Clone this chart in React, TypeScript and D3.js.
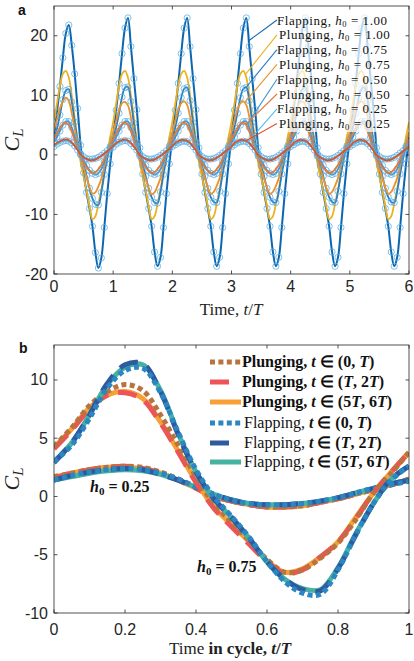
import React from 'react';
import * as d3 from 'd3';

// sample phases within one cycle (t/T)
const phase = [0, 0.05, 0.1, 0.15, 0.2, 0.25, 0.3, 0.35, 0.4, 0.45, 0.5, 0.55, 0.6, 0.65, 0.7, 0.75, 0.8, 0.85, 0.9, 0.95, 1];

// ---- one-cycle CL readings ----
const flap100First = [3.0, 7.2, 11.5, 16.3, 20.4, 21.8, 18.4, 13.6, 7.8, 1.6, -3.0, -6.3, -9.0, -12.0, -16.4, -19.0, -17.3, -12.2, -6.5, -1.5, 3.0];
const flap100 = [3.0, 7.5, 12.0, 17.0, 21.3, 23.0, 18.2, 12.8, 7.6, 1.2, -3.2, -6.3, -9.0, -12.0, -16.3, -18.7, -17.2, -12.2, -6.5, -1.5, 3.0];
const plunge100 = [5.8, 8.6, 11.6, 13.6, 14.1, 13.0, 10.0, 6.2, 2.4, -1.2, -3.7, -6.0, -8.6, -10.8, -10.3, -8.2, -5.8, -2.8, 0.4, 3.0, 5.5];
const flap050 = [2.2, 3.0, 4.0, 5.0, 5.6, 5.6, 4.6, 3.0, 1.4, 0.1, -0.9, -1.8, -2.6, -3.1, -3.3, -3.1, -2.4, -1.2, 0.1, 1.2, 2.1];
const plunge050 = [2.8, 3.6, 4.5, 5.2, 5.4, 5.0, 3.9, 2.5, 1.0, -0.4, -1.3, -2.1, -2.7, -3.0, -2.9, -2.4, -1.7, -0.7, 0.4, 1.5, 2.6];

// h0 = 0.75, cycles (0,T), (T,2T), (5T,6T)
const plunge075A = [4.3, 5.9, 7.8, 9.0, 9.6, 9.1, 7.0, 4.4, 1.7, -0.6, -2.2, -3.8, -5.4, -6.5, -6.3, -5.3, -4.0, -2.0, 0.3, 2.0, 3.8];
const plunge075B = [4.1, 5.7, 7.5, 8.7, 8.9, 8.3, 6.3, 3.8, 1.2, -1.0, -2.6, -4.1, -5.6, -6.6, -6.3, -5.2, -3.9, -1.9, 0.3, 2.1, 3.8];
const plunge075C = [4.2, 5.8, 7.6, 8.7, 9.0, 8.4, 6.4, 3.9, 1.3, -0.9, -2.4, -3.9, -5.5, -6.5, -6.2, -5.2, -3.9, -1.8, 0.3, 2.1, 3.8];
const flap075A = [3.0, 4.4, 6.7, 9.3, 10.8, 11.0, 8.9, 5.5, 2.3, 0.0, -1.7, -3.5, -5.6, -7.3, -8.3, -8.4, -6.3, -3.3, -0.6, 1.4, 2.6];
const flap075B = [2.9, 4.6, 7.0, 9.7, 11.3, 11.4, 9.0, 5.3, 2.1, -0.2, -1.8, -3.6, -5.6, -7.1, -8.0, -8.1, -6.2, -3.3, -0.6, 1.5, 2.6];
const flap075C = [3.0, 4.6, 7.0, 9.6, 11.1, 11.3, 9.1, 5.4, 2.1, -0.2, -1.8, -3.6, -5.6, -7.1, -7.9, -8.0, -6.1, -3.2, -0.6, 1.5, 2.6];

// h0 = 0.25
const plunge025A = [1.7, 2.0, 2.3, 2.5, 2.6, 2.5, 2.1, 1.5, 0.8, 0.1, -0.4, -0.7, -0.9, -0.9, -0.8, -0.5, -0.2, 0.2, 0.6, 1.0, 1.5];
const plunge025B = [1.6, 2.0, 2.3, 2.5, 2.6, 2.4, 2.0, 1.4, 0.7, 0.0, -0.4, -0.7, -0.9, -0.9, -0.8, -0.5, -0.2, 0.2, 0.6, 1.0, 1.5];
const plunge025C = [1.6, 2.0, 2.3, 2.5, 2.5, 2.4, 2.0, 1.4, 0.7, 0.0, -0.4, -0.7, -0.9, -0.9, -0.8, -0.5, -0.2, 0.2, 0.6, 1.0, 1.4];
const flap025A = [1.4, 1.8, 2.1, 2.3, 2.4, 2.3, 2.0, 1.5, 0.8, 0.2, -0.3, -0.6, -0.7, -0.7, -0.6, -0.4, -0.1, 0.3, 0.7, 1.0, 1.3];
const flap025B = [1.4, 1.8, 2.1, 2.3, 2.4, 2.3, 1.9, 1.4, 0.8, 0.2, -0.3, -0.6, -0.7, -0.7, -0.6, -0.4, -0.1, 0.3, 0.7, 1.1, 1.4];
const flap025C = [1.4, 1.7, 2.0, 2.2, 2.3, 2.2, 1.9, 1.4, 0.8, 0.2, -0.3, -0.6, -0.7, -0.7, -0.6, -0.4, -0.1, 0.3, 0.7, 1.1, 1.4];

// ---- panel a series (legend order) ----
const topNames = ['Flapping', 'Plunging', 'Flapping', 'Plunging', 'Flapping', 'Plunging', 'Flapping', 'Plunging'];
const topH0 = ['1.00', '1.00', '0.75', '0.75', '0.50', '0.50', '0.25', '0.25'];
const topColors = ['#0d67b0', '#edb120', '#2a7cc2', '#e9922e', '#3f93cf', '#e0793a', '#4dbeee', '#d9532b'];
const topCycles = [
  [flap100First, flap100, flap100, flap100, flap100, flap100],
  [plunge100, plunge100, plunge100, plunge100, plunge100, plunge100],
  [flap075A, flap075B, flap075C, flap075C, flap075C, flap075C],
  [plunge075A, plunge075B, plunge075C, plunge075C, plunge075C, plunge075C],
  [flap050, flap050, flap050, flap050, flap050, flap050],
  [plunge050, plunge050, plunge050, plunge050, plunge050, plunge050],
  [flap025A, flap025B, flap025C, flap025C, flap025C, flap025C],
  [plunge025A, plunge025B, plunge025C, plunge025C, plunge025C, plunge025C],
];
// where each legend leader line meets its curve (t/T)
const topAnchors = [3.29, 3.23, 3.24, 3.22, 3.27, 3.24, 3.27, 3.25];

// ---- panel b series ----
const botLabels = ['(0, ', '(', '(5', '(0, ', '(', '(5'];
const botNames = ['Plunging', 'Plunging', 'Plunging', 'Flapping', 'Flapping', 'Flapping'];
const botColors = ['#b8743f', '#ee5358', '#f7a035', '#2a87c4', '#2e5aa0', '#48b2a0'];
const botDash = ['5 3.4', '19 10', null, '5 3.4', '19 10', null];
const bot075 = [plunge075A, plunge075B, plunge075C, flap075A, flap075B, flap075C];
const bot025 = [plunge025A, plunge025B, plunge025C, flap025A, flap025B, flap025C];
const drawOrder = [2, 1, 0, 5, 4, 3];

const tile = (cycles: number[][]) => {
  const pts: [number, number][] = [];
  cycles.forEach((c, k) => c.forEach((v, i) => {
    if (k > 0 && i === 0) return;
    pts.push([k + phase[i], v]);
  }));
  return pts;
};
const oneCycle = (c: number[]) => c.map((v, i) => [phase[i], v] as [number, number]);

const valueAt = (pts: [number, number][], t: number) => {
  const i = d3.bisector((d: [number, number]) => d[0]).right(pts, t) - 1;
  const a = pts[Math.max(0, i)], b = pts[Math.min(pts.length - 1, i + 1)];
  if (b[0] === a[0]) return a[1];
  return a[1] + (b[1] - a[1]) * (t - a[0]) / (b[0] - a[0]);
};

const axisColor = '#262626';
const sans = '"Liberation Sans", Arial, sans-serif';
const serif = '"Liberation Serif", "Times New Roman", serif';

const Frame = ({ x, y, xt, yt, labelDy }: any) => {
  const [l, r] = x.range();
  const [b, t] = y.range();
  const tl = 3.5;
  return (
    <g>
      <rect x={l} y={t} width={r - l} height={b - t} fill="none" stroke={axisColor} strokeWidth={0.8} />
      {xt.map((v: number) => (
        <g key={'x' + v}>
          <line x1={x(v)} x2={x(v)} y1={b} y2={b - tl} stroke={axisColor} strokeWidth={0.8} />
          <line x1={x(v)} x2={x(v)} y1={t} y2={t + tl} stroke={axisColor} strokeWidth={0.8} />
          <text x={x(v)} y={b + labelDy} textAnchor="middle" fontFamily={sans} fontSize={16} fill={axisColor}>{String(v)}</text>
        </g>
      ))}
      {yt.map((v: number) => (
        <g key={'y' + v}>
          <line x1={l} x2={l + tl} y1={y(v)} y2={y(v)} stroke={axisColor} strokeWidth={0.8} />
          <line x1={r} x2={r - tl} y1={y(v)} y2={y(v)} stroke={axisColor} strokeWidth={0.8} />
          <text x={l - 6} y={y(v) + 5.5} textAnchor="end" fontFamily={sans} fontSize={16} fill={axisColor}>{String(v)}</text>
        </g>
      ))}
    </g>
  );
};

const CL = ({ cx, cy }: { cx: number; cy: number }) => (
  <text transform={`translate(${cx},${cy}) rotate(-90)`} textAnchor="middle" fontFamily={serif} fontStyle="italic" fontSize={22} fill="#222">
    C<tspan fontSize={15} dy={4}>L</tspan>
  </text>
);

const App = () => {
  const W = 414, H = 661;

  // panel a
  const xa = d3.scaleLinear().domain([0, 6]).range([54, 409]);
  const ya = d3.scaleLinear().domain([-20, 25]).range([274, 6]);
  const lineA = d3.line<[number, number]>().x(d => xa(d[0])).y(d => ya(d[1])).curve(d3.curveCatmullRom.alpha(0.5));
  const topSeries = topCycles.map(tile);

  // panel b
  const xb = d3.scaleLinear().domain([0, 1]).range([54, 409]);
  const yb = d3.scaleLinear().domain([-10, 13]).range([613, 345]);
  const lineB = d3.line<[number, number]>().x(d => xb(d[0])).y(d => yb(d[1])).curve(d3.curveCatmullRom.alpha(0.5));

  const legX = 277, legY0 = 20, legDy = 14.8;
  const bLegX = 210, bLegY = [362, 382, 402, 423, 443, 462];

  return (
    <svg width={W} height={H} style={{ position: 'absolute', left: 0, top: 0, background: '#fff' }}>
      <defs>
        <clipPath id="clipA"><rect x={54} y={6} width={355} height={268} /></clipPath>
        <clipPath id="clipB"><rect x={54} y={345} width={355} height={268} /></clipPath>
      </defs>

      {/* ---------- panel a ---------- */}
      <text x={18} y={15} fontFamily={sans} fontWeight="bold" fontSize={14} fill="#111">a</text>
      <g clipPath="url(#clipA)">
        {topSeries.map((pts, i) => (
          <g key={i}>
            <path d={lineA(pts) || ''} fill="none" stroke={topColors[i]} strokeWidth={i === 0 ? 2 : 1.8} />
            {topNames[i] === 'Flapping' && pts.map((p, j) => (
              <circle key={j} cx={xa(p[0])} cy={ya(p[1])} r={3.1} fill="none" stroke="#5aaee2" strokeWidth={0.9} opacity={0.85} />
            ))}
          </g>
        ))}
        <rect x={276} y={7} width={130} height={125} fill="#fff" opacity={0.72} />
      </g>
      <Frame x={xa} y={ya} xt={[0, 1, 2, 3, 4, 5, 6]} yt={[-20, -10, 0, 10, 20]} labelDy={18} />
      {topSeries.map((pts, i) => {
        const ty = legY0 + i * legDy;
        const t = topAnchors[i];
        return (
          <g key={'leg' + i}>
            <line x1={legX} y1={ty} x2={xa(t)} y2={ya(valueAt(pts, t))} stroke={topColors[i]} strokeWidth={1.1} />
            <text x={legX + (topNames[i] === 'Plunging' ? 2 : 0)} y={ty + 4.5} fontFamily={serif} fontSize={13}
              letterSpacing={0.55} fill="#111">
              {topNames[i]}, <tspan fontStyle="italic">h</tspan><tspan fontSize={8.5} dy={2}>0</tspan><tspan dy={-2}> = {topH0[i]}</tspan>
            </text>
          </g>
        );
      })}
      <CL cx={19} cy={140} />
      <text x={231} y={315} textAnchor="middle" fontFamily={serif} fontSize={17} fill="#222">
        Time, <tspan fontStyle="italic">t</tspan>/<tspan fontStyle="italic">T</tspan>
      </text>

      {/* ---------- panel b ---------- */}
      <text x={19} y={353} fontFamily={sans} fontWeight="bold" fontSize={14} fill="#111">b</text>
      <g clipPath="url(#clipB)">
        {[bot025, bot075].map((group, gi) => drawOrder.map(k => (
          <path key={gi + '-' + k} d={lineB(oneCycle(group[k])) || ''} fill="none" stroke={botColors[k]}
            strokeWidth={5} strokeDasharray={botDash[k] || undefined} />
        )))}
      </g>
      <Frame x={xb} y={yb} xt={[0, 0.2, 0.4, 0.6, 0.8, 1]} yt={[-10, -5, 0, 5, 10]} labelDy={22} />
      {botNames.map((n, i) => (
        <g key={'bl' + i}>
          <line x1={bLegX} x2={i === 1 || i === 4 ? bLegX + 19 : bLegX + 31} y1={bLegY[i]} y2={bLegY[i]}
            stroke={botColors[i]} strokeWidth={5} strokeDasharray={botDash[i] || undefined} />
          <text x={bLegX + 32 + (n === 'Flapping' ? 2 : 0)} y={bLegY[i] + 5} fontFamily={serif} fontSize={16} fill="#111">
            <tspan fontWeight={n === 'Plunging' ? 'bold' : 'normal'}>{n}, </tspan>
            <tspan fontWeight="bold" fontStyle="italic">t</tspan>
            <tspan fontWeight="bold"> ∈ {botLabels[i]}</tspan>
            {i % 3 !== 0 && <tspan fontWeight="bold" fontStyle="italic">T</tspan>}
            {i % 3 !== 0 && <tspan fontWeight="bold">, {i % 3 === 1 ? '2' : '6'}</tspan>}
            <tspan fontWeight="bold" fontStyle="italic">T</tspan>
            <tspan fontWeight="bold">)</tspan>
          </text>
        </g>
      ))}
      <text x={90} y={492} fontFamily={serif} fontSize={16} fontWeight="bold" fill="#111">
        <tspan fontStyle="italic">h</tspan><tspan fontSize={11} dy={3}>0</tspan><tspan dy={-3}> = 0.25</tspan>
      </text>
      <text x={197} y={572} fontFamily={serif} fontSize={16} fontWeight="bold" fill="#111">
        <tspan fontStyle="italic">h</tspan><tspan fontSize={11} dy={3}>0</tspan><tspan dy={-3}> = 0.75</tspan>
      </text>
      <CL cx={19} cy={479} />
      <text x={230} y={654} textAnchor="middle" fontFamily={serif} fontSize={17} fill="#222">
        Time <tspan fontWeight="bold">in cycle, </tspan><tspan fontWeight="bold" fontStyle="italic">t</tspan><tspan fontWeight="bold">/</tspan><tspan fontWeight="bold" fontStyle="italic">T</tspan>
      </text>
    </svg>
  );
};

export default App;
